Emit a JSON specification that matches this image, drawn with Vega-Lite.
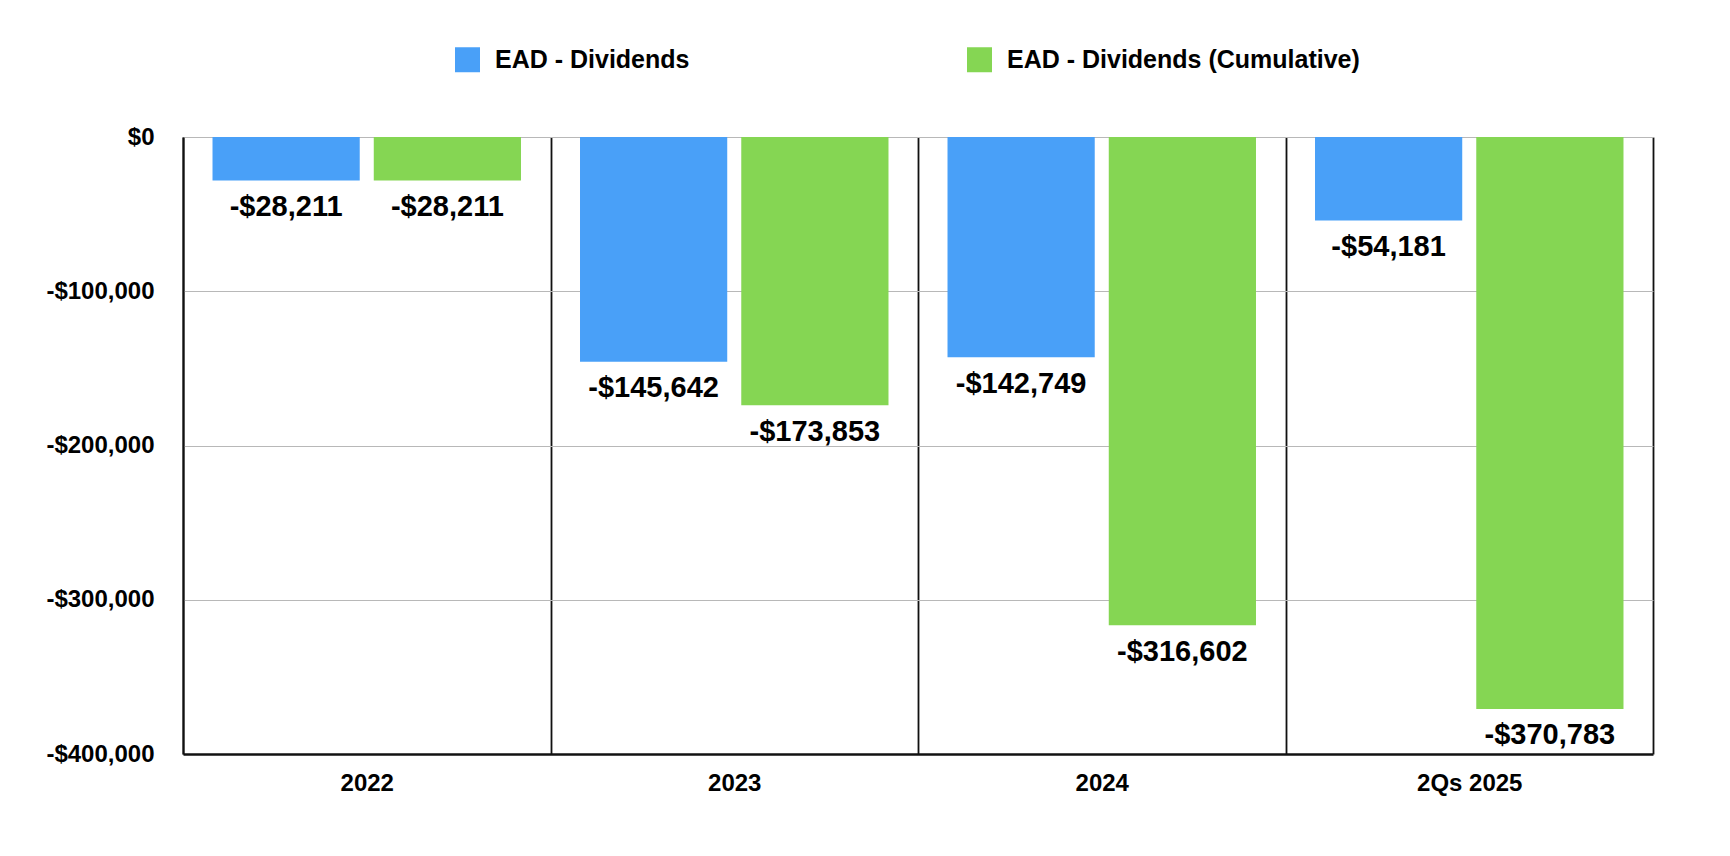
{
  "$schema": "https://vega.github.io/schema/vega-lite/v6.json",
  "description": "EAD - Dividends vs cumulative dividends",
  "autosize": {"type": "none"},
  "padding": {"left": 183, "top": 137, "right": 77, "bottom": 102},
  "width": 1470,
  "height": 617,
  "background": "white",
  "data": {
    "values": [
      {"period": "2022", "series": "EAD - Dividends", "value": -28211},
      {"period": "2022", "series": "EAD - Dividends (Cumulative)", "value": -28211},
      {"period": "2023", "series": "EAD - Dividends", "value": -145642},
      {"period": "2023", "series": "EAD - Dividends (Cumulative)", "value": -173853},
      {"period": "2024", "series": "EAD - Dividends", "value": -142749},
      {"period": "2024", "series": "EAD - Dividends (Cumulative)", "value": -316602},
      {"period": "2Qs 2025", "series": "EAD - Dividends", "value": -54181},
      {"period": "2Qs 2025", "series": "EAD - Dividends (Cumulative)", "value": -370783}
    ]
  },
  "config": {
    "font": "Liberation Sans",
    "view": {"stroke": null},
    "axis": {
      "labelFont": "Liberation Sans",
      "labelFontWeight": "bold",
      "labelColor": "black",
      "ticks": false,
      "tickSize": 0,
      "title": null
    },
    "legend": {
      "orient": "none",
      "legendX": 272,
      "legendY": -90,
      "direction": "horizontal",
      "padding": 0,
      "symbolType": "square",
      "symbolSize": 625,
      "symbolStrokeWidth": 0,
      "symbolOpacity": 1,
      "labelFont": "Liberation Sans",
      "labelFontSize": 25,
      "labelFontWeight": "bold",
      "labelColor": "black",
      "labelOffset": 15,
      "labelLimit": 600,
      "columnPadding": 277
    }
  },
  "encoding": {
    "x": {
      "field": "period",
      "type": "nominal",
      "sort": null,
      "scale": {"paddingInner": 0, "paddingOuter": 0},
      "axis": {
        "labelAngle": 0,
        "labelFontSize": 24,
        "labelPadding": 17,
        "domainColor": "#111111",
        "domainWidth": 2.5,
        "grid": true,
        "tickBand": "extent",
        "gridColor": "#111111",
        "gridWidth": 1.8
      }
    },
    "xOffset": {
      "field": "series",
      "type": "nominal",
      "scale": {"paddingInner": 0.087, "paddingOuter": 0.183}
    },
    "y": {
      "field": "value",
      "type": "quantitative",
      "scale": {"domain": [-400000, 0], "nice": false, "zero": true},
      "axis": {
        "values": [0, -100000, -200000, -300000, -400000],
        "labelExpr": "datum.value == 0 ? '$0' : '-$' + format(-datum.value, ',')",
        "labelFontSize": 24,
        "labelPadding": 29,
        "domainColor": "#111111",
        "domainWidth": 2,
        "gridColor": "#b8b8b8",
        "gridWidth": 1
      }
    }
  },
  "layer": [
    {
      "mark": {"type": "bar"},
      "encoding": {
        "color": {
          "field": "series",
          "type": "nominal",
          "title": null,
          "scale": {
            "domain": ["EAD - Dividends", "EAD - Dividends (Cumulative)"],
            "range": ["#49A0F8", "#85D653"]
          }
        }
      }
    },
    {
      "mark": {
        "type": "text",
        "font": "Liberation Sans",
        "fontSize": 29,
        "fontWeight": "bold",
        "color": "black",
        "align": "center",
        "baseline": "alphabetic",
        "dy": 35.5,
        "text": {"expr": "'-$' + format(-datum.value, ',')"}
      }
    }
  ]
}
